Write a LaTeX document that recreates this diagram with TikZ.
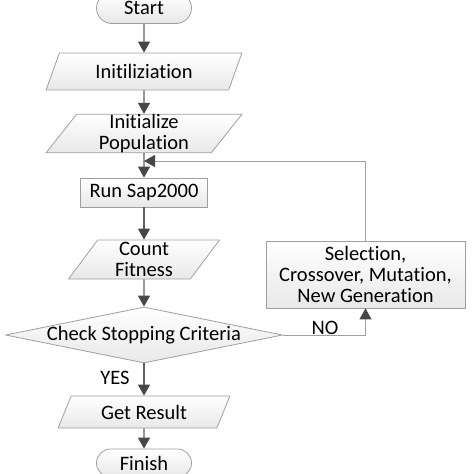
\documentclass[tikz,border=0pt]{standalone}
\usepackage{fontspec}
\setmainfont{Carlito}[Ligatures=NoCommon]
\usetikzlibrary{shapes.geometric,shapes.misc,arrows.meta}

\begin{document}
\begin{tikzpicture}[x=1pt,y=1pt,
        every node/.style={font=\fontsize{20.5}{21}\selectfont, align=center, inner sep=0pt},
        box/.style={draw=gray!75, top color=white, bottom color=gray!18, line width=0.8pt},
        term/.style={box, rounded rectangle, minimum width=95pt},
        io/.style={box, trapezium, trapezium left angle=62, trapezium right angle=118, trapezium stretches=true},
        proc/.style={box, rectangle},
        decision/.style={box, diamond, minimum width=277pt, minimum height=56pt},
        tip/.style={-{Triangle[width=12pt,length=11pt,color=black!72]}},
        arr/.style={tip, draw=black!62, line width=1.1pt},
        link/.style={tip, draw=gray!75, line width=0.9pt}
    ]

        \useasboundingbox (0,0) rectangle (474,-474);

        \node[term, minimum height=31pt] (start) at (144,-8) {Start};
        \node[io, minimum width=196pt, minimum height=37pt] (init) at (144,-71.5) {Initiliziation};
        \node[io, minimum width=196pt, minimum height=38pt] (pop) at (144,-133.5) {Initialize\\Population};
        \node[proc, minimum width=127pt, minimum height=29pt] (run) at (144,-192.5) {Run Sap2000};
        \node[io, minimum width=152pt, minimum height=39pt] (count) at (144,-259.5) {Count\\Fitness};
        \node[decision] (check) at (144,-335) {};
        \node (checktext) at (check) {Check Stopping Criteria};
        \node[io, minimum width=172pt, minimum height=32pt] (result) at (144,-412) {Get Result};
        \node[term, minimum height=28pt] (finish) at (144,-463) {Finish};

        \node[proc, minimum width=199pt, minimum height=67pt] (sel) at (365.5,-274.5) {Selection,\\Crossover, Mutation,\\New Generation};

        \node (yes) at (115,-378) {YES};
        \node (no) at (325,-328) {NO};

        \coordinate (join) at (144,-161);

        \draw[arr] (start) -- (init);
        \draw[arr] (init) -- (pop);
        \draw[arr] (pop) -- (run);
        \draw[arr] (run) -- (count);
        \draw[arr] (count) -- (check);
        \draw[arr] (check) -- (result);
        \draw[arr] (result) -- (finish);

        \draw[link] (check.east) -| (sel.south);
        \draw[link] (sel.north) |- (join);
    \end{tikzpicture}
\end{document}
